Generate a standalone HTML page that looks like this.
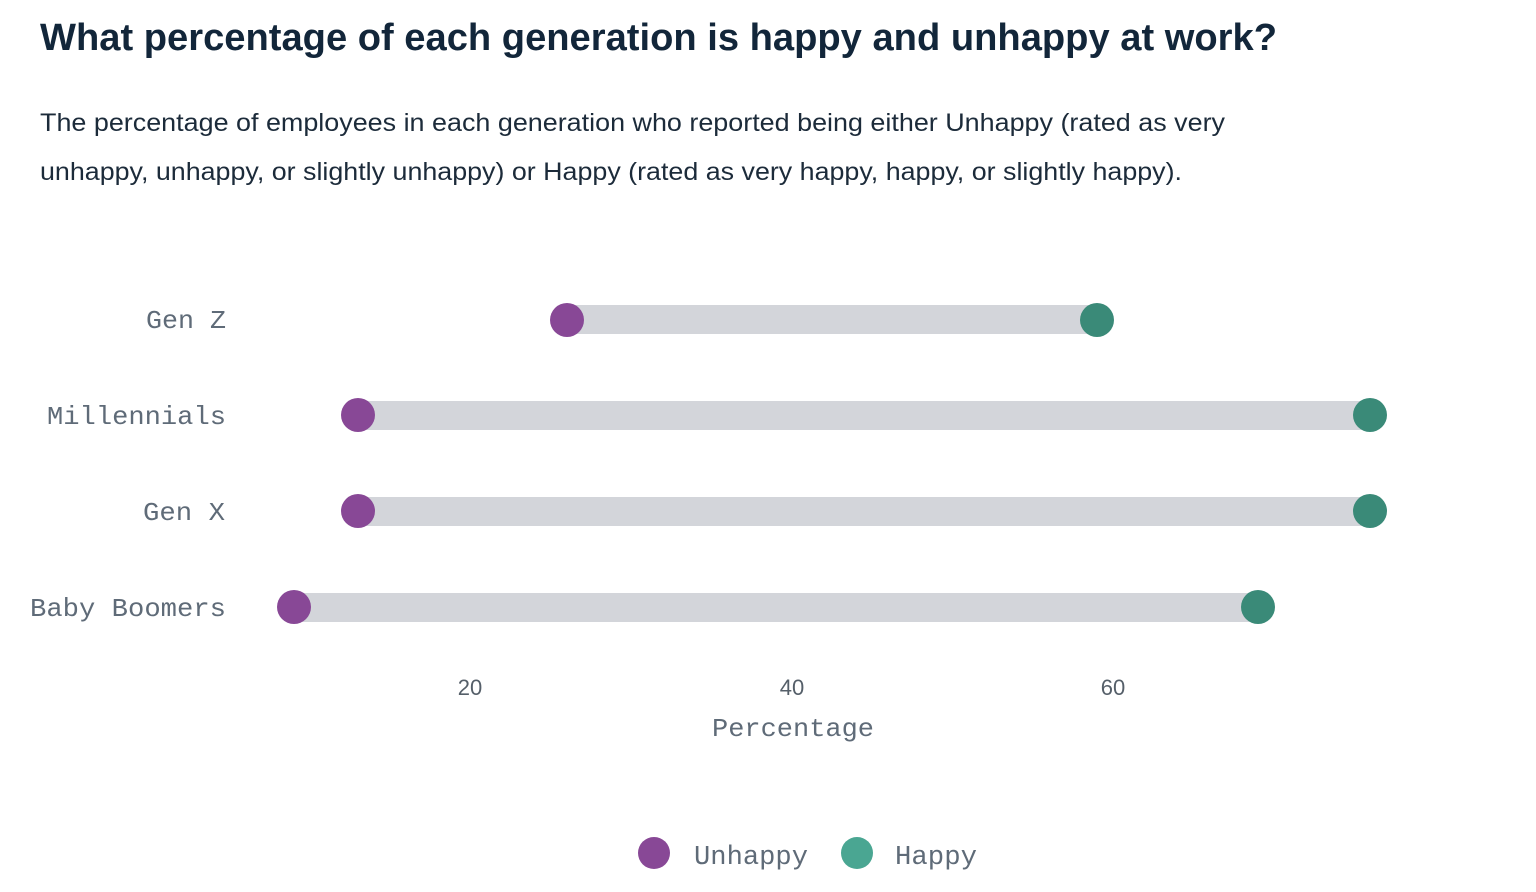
<!DOCTYPE html>
<html><head><meta charset="utf-8"><style>
html,body{margin:0;padding:0;background:#fff;width:1536px;height:892px;overflow:hidden}
</style></head><body>
<svg width="1536" height="892" xmlns="http://www.w3.org/2000/svg">
<text x="40" y="50" font-family="Liberation Sans, sans-serif" font-weight="bold" font-size="38" fill="#12263a" textLength="1237" lengthAdjust="spacingAndGlyphs">What percentage of each generation is happy and unhappy at work?</text>
<text x="40" y="131" font-family="Liberation Sans, sans-serif" font-size="25" fill="#1c2b3a" textLength="1185" lengthAdjust="spacingAndGlyphs">The percentage of employees in each generation who reported being either Unhappy (rated as very</text>
<text x="40" y="180" font-family="Liberation Sans, sans-serif" font-size="25" fill="#1c2b3a" textLength="1142" lengthAdjust="spacingAndGlyphs">unhappy, unhappy, or slightly unhappy) or Happy (rated as very happy, happy, or slightly happy).</text>
<g font-family="Liberation Mono, monospace" font-size="26" fill="#5f6b78">
<text x="146" y="328" textLength="80" lengthAdjust="spacingAndGlyphs">Gen Z</text>
<text x="47" y="424" textLength="179" lengthAdjust="spacingAndGlyphs">Millennials</text>
<text x="143" y="520" textLength="82" lengthAdjust="spacingAndGlyphs">Gen X</text>
<text x="30" y="616" textLength="196" lengthAdjust="spacingAndGlyphs">Baby Boomers</text>
</g>
<g fill="#d3d5da">
<rect x="567" y="305" width="530" height="29"/>
<rect x="358" y="401" width="1012" height="29"/>
<rect x="358" y="497" width="1012" height="29"/>
<rect x="294" y="593" width="964" height="29"/>
</g>
<g fill="#884896">
<circle cx="567" cy="320" r="17"/><circle cx="358" cy="415" r="17"/><circle cx="358" cy="511" r="17"/><circle cx="294" cy="607" r="17"/>
</g>
<g fill="#3a8a78">
<circle cx="1097" cy="320" r="17"/><circle cx="1370" cy="415" r="17"/><circle cx="1370" cy="511" r="17"/><circle cx="1258" cy="607" r="17"/>
</g>
<g font-family="Liberation Sans, sans-serif" font-size="22" fill="#555f69" text-anchor="middle">
<text x="470" y="695">20</text><text x="792" y="695">40</text><text x="1113" y="695">60</text>
</g>
<text x="712" y="736" font-family="Liberation Mono, monospace" font-size="26" fill="#5f6b78" textLength="162" lengthAdjust="spacingAndGlyphs">Percentage</text>
<circle cx="654" cy="853" r="16" fill="#884896"/>
<text x="694" y="864" font-family="Liberation Mono, monospace" font-size="27" fill="#5f6b78" textLength="114" lengthAdjust="spacingAndGlyphs">Unhappy</text>
<circle cx="857" cy="853" r="16" fill="#4aa692"/>
<text x="895" y="864" font-family="Liberation Mono, monospace" font-size="27" fill="#5f6b78" textLength="82" lengthAdjust="spacingAndGlyphs">Happy</text>
</svg>
</body></html>
